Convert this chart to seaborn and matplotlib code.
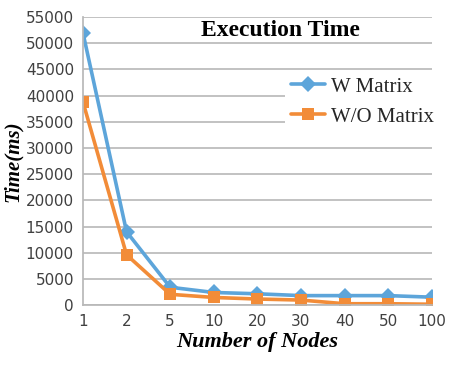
import matplotlib.pyplot as plt
import seaborn as sns
import pandas as pd

nodes = ['1', '2', '5', '10', '20', '30', '40', '50', '100']
w_matrix = [52000, 14000, 3400, 2400, 2150, 1800, 1800, 1800, 1500]
wo_matrix = [38800, 9600, 2050, 1450, 1150, 950, 250, 250, 150]

df = pd.DataFrame({
    'Nodes': nodes * 2,
    'Time': w_matrix + wo_matrix,
    'Series': ['W Matrix'] * len(nodes) + ['W/O Matrix'] * len(nodes),
})

sns.set_theme(style='white')
plt.rcParams['font.family'] = ['DejaVu Sans']

fig = plt.figure(figsize=(4.74, 3.72), dpi=100)
ax = fig.add_axes([0.175, 0.18, 0.736, 0.774])

sns.lineplot(data=df, x='Nodes', y='Time', hue='Series', style='Series',
             markers={'W Matrix': 'D', 'W/O Matrix': 's'}, dashes=False,
             palette={'W Matrix': '#5DA5DA', 'W/O Matrix': '#F28C38'},
             linewidth=2.6, markersize=8, markeredgewidth=0, ax=ax, sort=False)

ax.set_xlim(0, 8)
ax.set_ylim(0, 55000)
ax.set_yticks(range(0, 55001, 5000))
ax.yaxis.grid(True, color='#B8B8B8', linewidth=1.2)
ax.set_axisbelow(True)
for s in ['top', 'right']:
    ax.spines[s].set_visible(False)
ax.spines['left'].set_color('#B8B8B8')
ax.spines['bottom'].set_color('#B8B8B8')
ax.tick_params(axis='both', labelsize=11, colors='#404040', length=3, width=1)
ax.tick_params(axis='both', color='#B8B8B8')

ax.set_xlabel('Number of Nodes', family='Liberation Serif', style='italic',
              weight='bold', fontsize=16, color='black', labelpad=2)
ax.set_ylabel('Time(ms)', family='Liberation Serif', style='italic',
              weight='bold', fontsize=15, color='black', labelpad=2)

ax.text(0.567, 0.955, 'Execution Time', transform=ax.transAxes,
        family='Liberation Serif', weight='bold', fontsize=17,
        ha='center', va='center', color='black',
        bbox=dict(facecolor='white', edgecolor='none', pad=1))

leg = ax.legend(loc='upper left', bbox_to_anchor=(0.55, 0.85), frameon=True,
                fancybox=False, edgecolor='none', facecolor='white', framealpha=1,
                prop={'family': 'Liberation Serif', 'size': 15},
                handlelength=1.6, handletextpad=0.3, borderpad=0.3, labelspacing=0.5)
leg.set_title(None)

fig.savefig('out.png', dpi=100)
